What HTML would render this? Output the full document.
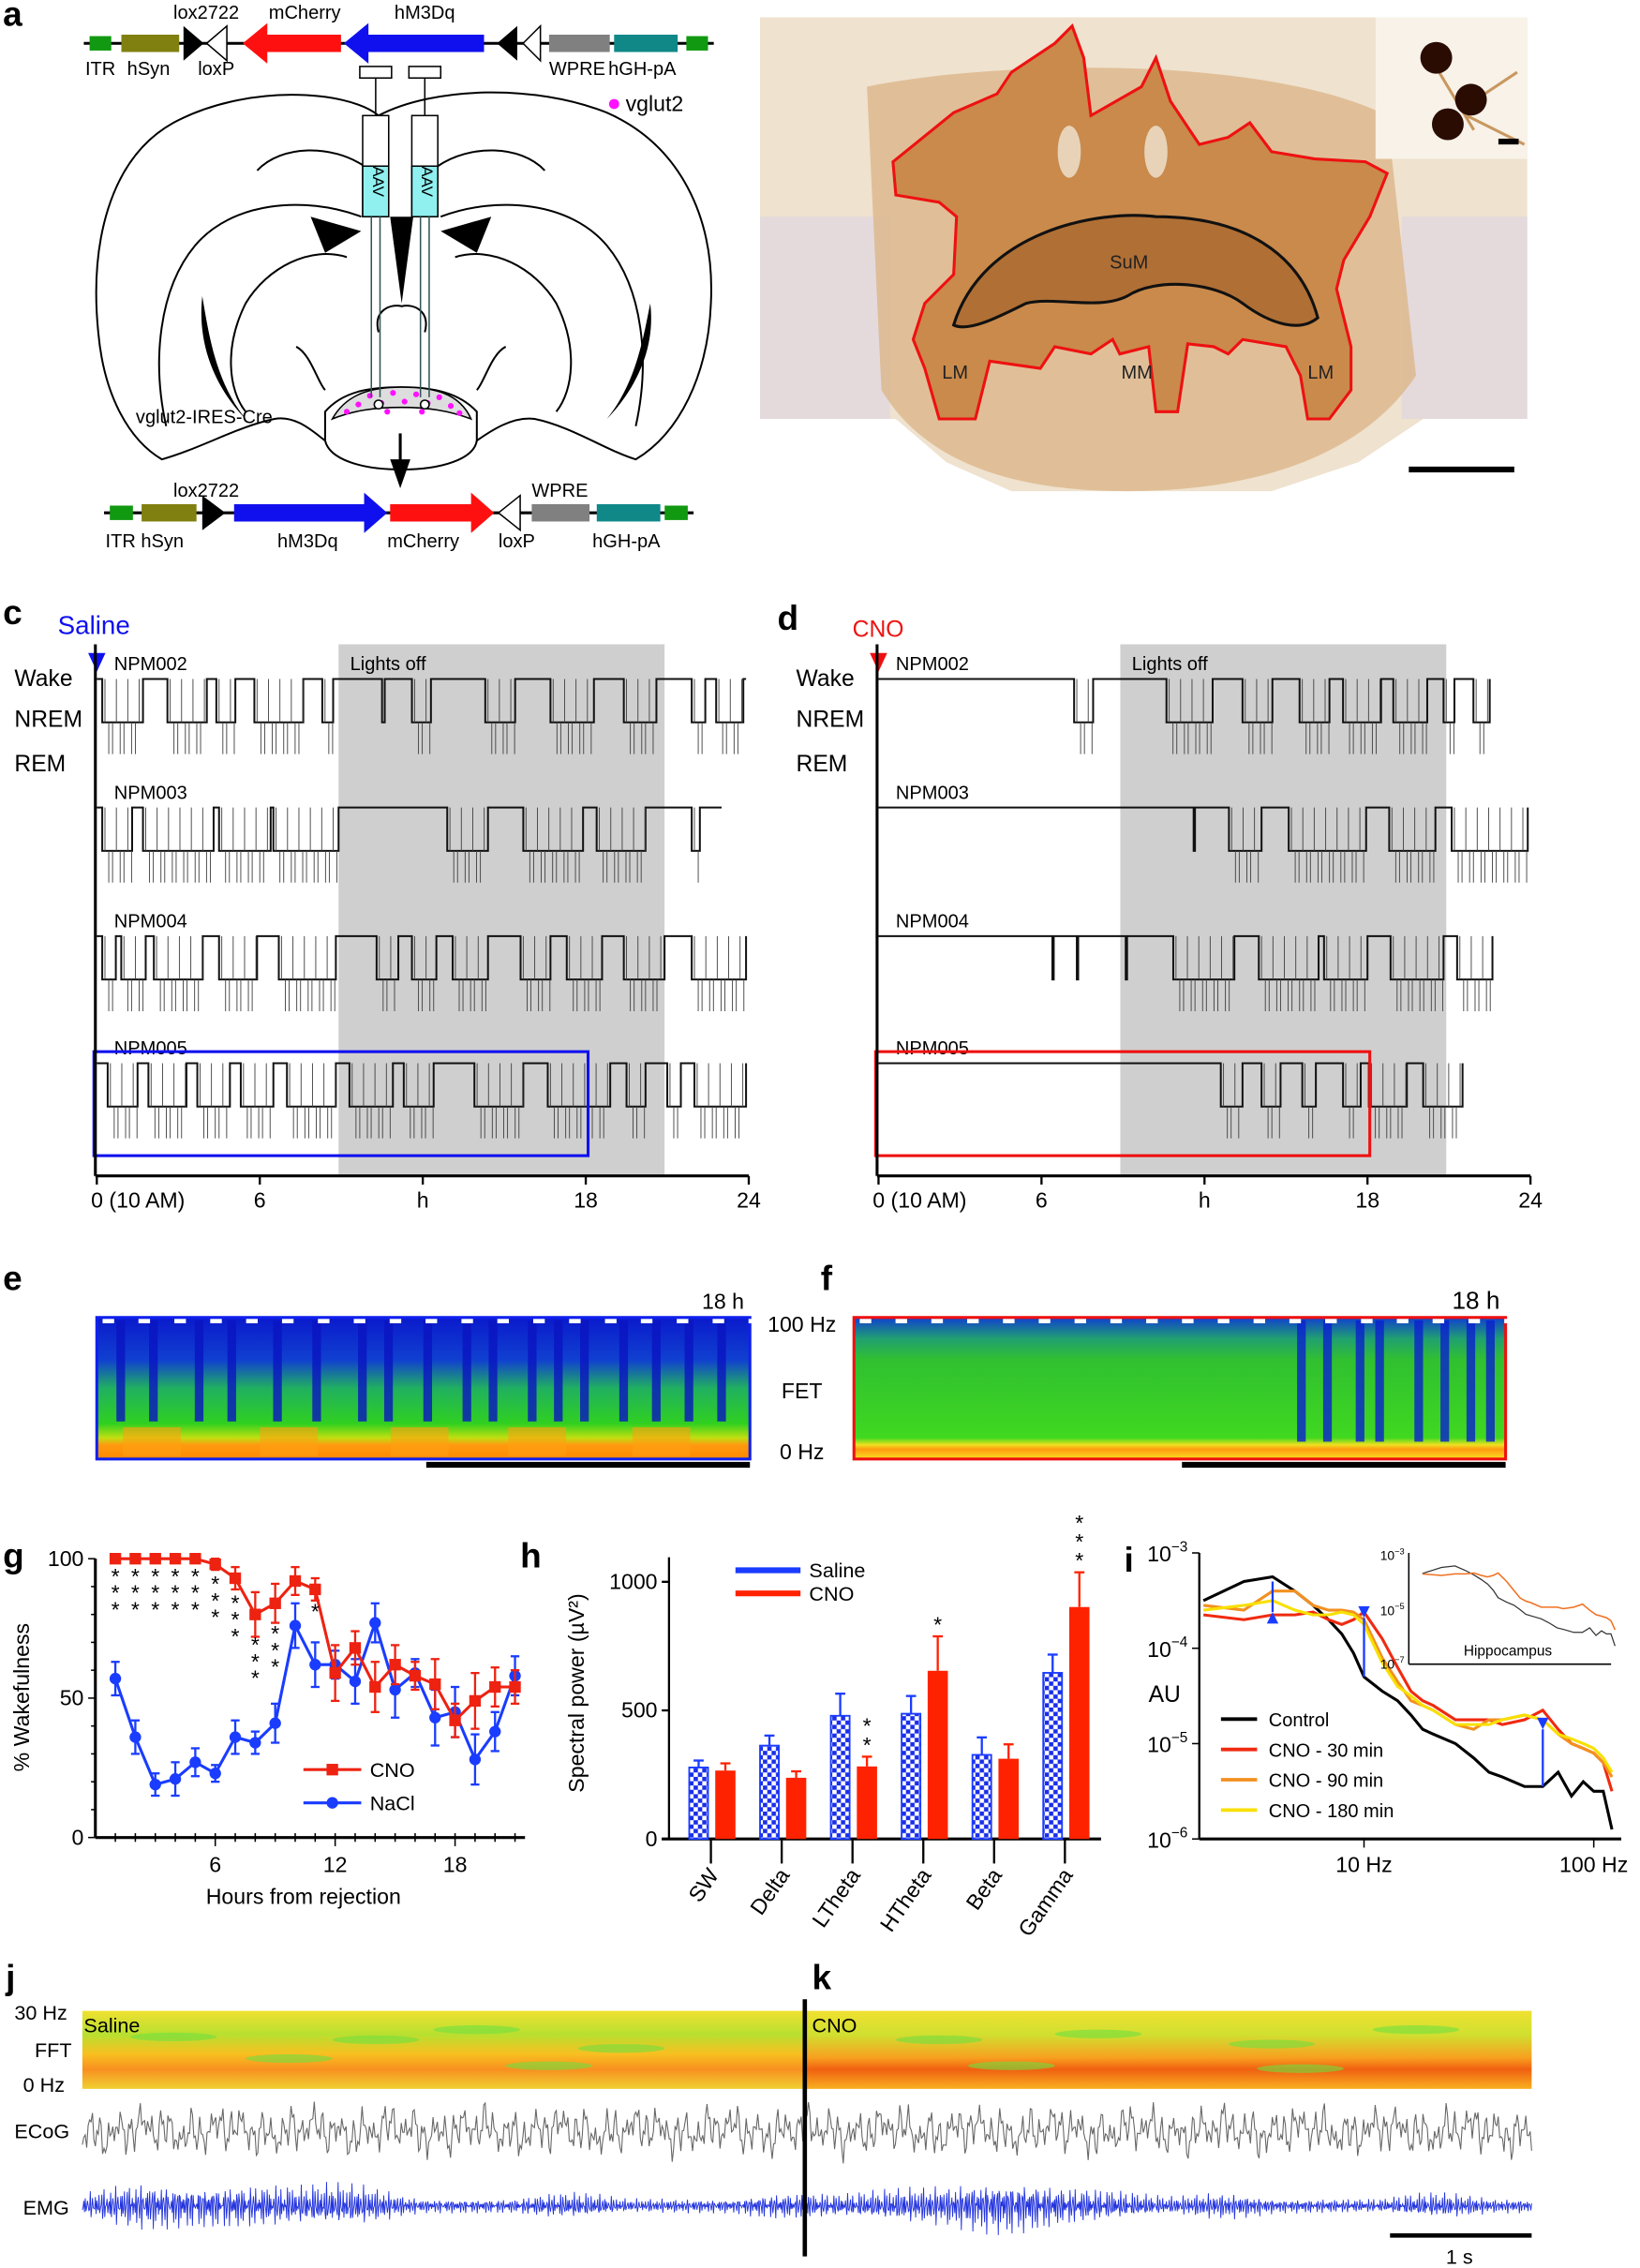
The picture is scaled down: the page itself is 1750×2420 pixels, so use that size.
<!DOCTYPE html>
<html><head><meta charset="utf-8">
<style>
html,body{margin:0;padding:0;background:#fff}
svg{display:block}
text{font-family:"Liberation Sans",Arial,sans-serif}
</style></head>
<body>
<svg id="fig" xmlns="http://www.w3.org/2000/svg" width="1750" height="2420" viewBox="0 0 1135 1570" preserveAspectRatio="none">
<defs>
<pattern id="chk" width="6" height="6" patternUnits="userSpaceOnUse"><rect width="6" height="6" fill="#fff"/><rect width="3" height="3" fill="#1a2ee8"/><rect x="3" y="3" width="3" height="3" fill="#1a2ee8"/></pattern>
<linearGradient id="specE" x1="0" y1="0" x2="0" y2="1"><stop offset="0" stop-color="#0a1acc"/><stop offset="0.3" stop-color="#1040d0"/><stop offset="0.5" stop-color="#20b060"/><stop offset="0.75" stop-color="#30d020"/><stop offset="0.85" stop-color="#c0e010"/><stop offset="0.9" stop-color="#ff9a10"/><stop offset="1" stop-color="#ff8a00"/></linearGradient>
<linearGradient id="specF" x1="0" y1="0" x2="0" y2="1"><stop offset="0" stop-color="#1040d0"/><stop offset="0.15" stop-color="#20a070"/><stop offset="0.3" stop-color="#30c030"/><stop offset="0.85" stop-color="#40d820"/><stop offset="0.9" stop-color="#f0e020"/><stop offset="0.93" stop-color="#ff9a10"/><stop offset="1" stop-color="#f8e020"/></linearGradient>
<linearGradient id="specJ" x1="0" y1="0" x2="0" y2="1"><stop offset="0" stop-color="#f0e030"/><stop offset="0.3" stop-color="#b8e030"/><stop offset="0.55" stop-color="#f8c020"/><stop offset="0.75" stop-color="#f89020"/><stop offset="1" stop-color="#f0d030"/></linearGradient>
<linearGradient id="specK" x1="0" y1="0" x2="0" y2="1"><stop offset="0" stop-color="#f0e030"/><stop offset="0.3" stop-color="#d0e030"/><stop offset="0.6" stop-color="#f8a020"/><stop offset="0.75" stop-color="#f06010"/><stop offset="1" stop-color="#f8b020"/></linearGradient>
</defs>

<g font-weight="bold" font-size="24">
<text x="2" y="18">a</text><text x="533" y="42">b</text><text x="2" y="432">c</text><text x="538" y="436">d</text>
<text x="2" y="893">e</text><text x="568" y="893">f</text><text x="2" y="1085">g</text><text x="360" y="1085">h</text>
<text x="778" y="1088">i</text><text x="4" y="1377">j</text><text x="562" y="1377">k</text>
</g>

<g id="panelA">
 <g>
  <line x1="58" y1="30" x2="494" y2="30" stroke="#000" stroke-width="2"/>
  <rect x="62" y="25" width="15" height="10" fill="#119911"/>
  <rect x="84" y="24" width="40" height="12" fill="#808010"/>
  <polygon points="127,18 127,42 141,30" fill="#000"/>
  <polygon points="157,18 157,42 143,30" fill="#fff" stroke="#000"/>
  <polygon points="168,30 185,16 185,24 236,24 236,36 185,36 185,44" fill="#ff1010"/>
  <polygon points="238,30 255,16 255,24 335,24 335,36 255,36 255,44" fill="#1010ee"/>
  <polygon points="358,18 358,42 344,30" fill="#000"/>
  <polygon points="362,30 374,18 374,42" fill="#fff" stroke="#000"/>
  <rect x="380" y="24" width="42" height="12" fill="#808080"/>
  <rect x="425" y="24" width="44" height="12" fill="#108888"/>
  <rect x="475" y="25" width="15" height="10" fill="#119911"/>
  <g font-size="13"><text x="120" y="13">lox2722</text><text x="186" y="13">mCherry</text><text x="273" y="13">hM3Dq</text>
  <text x="59" y="52">ITR</text><text x="88" y="52">hSyn</text><text x="137" y="52">loxP</text><text x="380" y="52">WPRE</text><text x="421" y="52">hGH-pA</text></g>
 </g>
 <circle cx="425" cy="72" r="3.5" fill="#ff10ff"/><text x="433" y="77" font-size="15">vglut2</text>
 <g fill="none" stroke="#000" stroke-width="1.3">
  <path d="M262,80 C240,62 170,58 120,85 C75,110 62,170 68,230 C72,275 90,305 112,318 C140,310 165,295 190,290 C205,287 218,300 225,305 L225,285 C238,270 258,268 278,268 C300,268 318,272 330,285 L330,305 C340,298 355,288 370,290 C395,295 420,312 440,318 C470,300 490,260 492,210 C495,150 470,100 420,78 C370,58 300,60 262,80 Z"/>
  <path d="M225,305 C228,318 250,325 278,325 C305,325 328,318 330,305"/>
  <path d="M250,150 C210,135 160,140 135,170 C110,200 105,250 115,295"/>
  <path d="M305,150 C345,135 395,140 420,170 C445,200 450,250 440,295"/>
  <path d="M240,178 C215,170 185,185 170,210 C155,240 158,270 170,285"/>
  <path d="M315,178 C340,170 370,185 385,210 C400,240 397,270 385,285"/>
  <path d="M252,115 C230,100 195,100 178,118"/><path d="M303,115 C325,100 360,100 377,118"/>
  <path d="M262,230 C258,215 270,210 278,212 C286,210 298,215 294,230"/>
  <path d="M205,240 C215,245 220,265 225,270"/><path d="M350,240 C340,245 335,265 330,270"/>
 </g>
 <path d="M140,205 C135,250 160,280 170,290 C150,265 145,235 140,205 Z" fill="#000"/>
 <path d="M450,210 C455,250 430,280 420,290 C440,265 445,235 450,210 Z" fill="#000"/>
 <path d="M215,150 L250,160 L225,175 Z" fill="#000"/><path d="M340,150 L305,160 L330,175 Z" fill="#000"/>
 <path d="M270,150 L278,210 L286,150 Z" fill="#000"/>
 <path d="M230,290 C240,272 258,268 278,268 C300,268 318,272 326,290 C310,284 295,282 278,282 C260,282 245,284 230,290 Z" fill="#ddd" stroke="#000"/>
 <g fill="#ff10ff">
  <circle cx="248" cy="280" r="2"/><circle cx="256" cy="274" r="2"/><circle cx="264" cy="279" r="2"/><circle cx="272" cy="272" r="2"/><circle cx="280" cy="278" r="2"/><circle cx="288" cy="273" r="2"/><circle cx="296" cy="279" r="2"/><circle cx="304" cy="275" r="2"/><circle cx="312" cy="281" r="2"/><circle cx="240" cy="285" r="2"/><circle cx="318" cy="286" r="2"/><circle cx="268" cy="285" r="2"/><circle cx="292" cy="285" r="2"/>
 </g>
 <g stroke="#000" fill="#fff">
  <rect x="249" y="46" width="22" height="8"/><rect x="283" y="46" width="22" height="8"/>
  <line x1="260" y1="54" x2="260" y2="80"/><line x1="294" y1="54" x2="294" y2="80"/>
  <rect x="251" y="80" width="18" height="70"/><rect x="285" y="80" width="18" height="70"/>
  <rect x="251" y="115" width="18" height="35" fill="#90f0f0"/><rect x="285" y="115" width="18" height="35" fill="#90f0f0"/>
  <line x1="257" y1="150" x2="257" y2="275" stroke="#355"/><line x1="263" y1="150" x2="263" y2="275" stroke="#355"/>
  <line x1="291" y1="150" x2="291" y2="275" stroke="#355"/><line x1="297" y1="150" x2="297" y2="275" stroke="#355"/>
  <circle cx="262" cy="280" r="3"/><circle cx="294" cy="280" r="3"/>
 </g>
 <text x="253" y="120" font-size="11" transform="rotate(90 258 120)">AAV</text><text x="287" y="120" font-size="11" transform="rotate(90 292 120)">AAV</text>
 <text x="94" y="293" font-size="13">vglut2-IRES-Cre</text>
 <line x1="277" y1="300" x2="277" y2="322" stroke="#000" stroke-width="2"/><polygon points="270,318 284,318 277,338" fill="#000"/>
 <g>
  <line x1="72" y1="355" x2="480" y2="355" stroke="#000" stroke-width="2"/>
  <rect x="76" y="350" width="16" height="10" fill="#119911"/>
  <rect x="98" y="349" width="38" height="12" fill="#808010"/>
  <polygon points="140,343 140,367 156,355" fill="#000"/>
  <polygon points="268,355 252,341 252,349 162,349 162,361 252,361 252,369" fill="#1010ee"/>
  <polygon points="342,355 326,341 326,349 270,349 270,361 326,361 326,369" fill="#ff1010"/>
  <polygon points="345,355 360,343 360,367" fill="#fff" stroke="#000"/>
  <rect x="368" y="349" width="40" height="12" fill="#808080"/>
  <rect x="413" y="349" width="44" height="12" fill="#108888"/>
  <rect x="460" y="350" width="16" height="10" fill="#119911"/>
  <g font-size="13"><text x="120" y="344">lox2722</text><text x="368" y="344">WPRE</text>
  <text x="73" y="379">ITR hSyn</text><text x="192" y="379">hM3Dq</text><text x="268" y="379">mCherry</text><text x="345" y="379">loxP</text><text x="410" y="379">hGH-pA</text></g>
 </g>
</g>

<g id="panelB">
 <path d="M526,12 L1057,12 L1057,290 L985,290 L940,320 L880,340 L700,340 L655,320 L620,290 L526,290 Z" fill="#efe2cf"/>
 <rect x="526" y="150" width="90" height="140" fill="#dcd6e4" opacity="0.6"/>
 <rect x="970" y="150" width="87" height="140" fill="#dcd6e4" opacity="0.6"/>
 <path d="M600,60 C700,40 880,40 960,80 L980,260 C940,320 860,340 780,340 C700,340 640,320 610,270 Z" fill="#dcb68a" opacity="0.8"/>
 <path d="M640,255 L632,235 L640,210 L660,190 L662,150 L650,140 L620,135 L618,112 L660,78 L690,65 L700,50 L730,30 L742,18 L750,40 L755,80 L790,60 L800,40 L810,70 L830,100 L850,95 L865,85 L880,105 L910,110 L945,112 L960,120 L948,150 L930,180 L925,200 L930,220 L935,240 L935,270 L920,290 L905,290 L900,260 L890,240 L860,235 L850,245 L840,240 L822,238 L815,285 L800,285 L795,240 L775,245 L770,235 L755,245 L730,240 L720,255 L685,250 L675,290 L650,290 Z" fill="#c98a4c" stroke="#ee1111" stroke-width="2"/>
 <path d="M660,225 C680,160 760,145 800,150 C860,150 900,175 912,220 C900,230 880,225 860,210 C840,195 800,192 780,205 C760,215 730,205 710,210 C690,220 670,230 660,225 Z" fill="#b06f35" stroke="#111" stroke-width="2"/>
 <ellipse cx="740" cy="105" rx="8" ry="18" fill="#e8d3b8"/><ellipse cx="800" cy="105" rx="8" ry="18" fill="#e8d3b8"/>
 <g font-size="13" fill="#222"><text x="768" y="186">SuM</text><text x="652" y="262">LM</text><text x="776" y="262">MM</text><text x="905" y="262">LM</text></g>
 <rect x="952" y="12" width="105" height="98" fill="#f8f2e8"/>
 <path d="M990,40 L1020,90 M1020,70 L1050,50 M1015,80 L1055,100" stroke="#c89860" stroke-width="2" fill="none"/>
 <circle cx="994" cy="40" r="11" fill="#2a0c02"/><circle cx="1018" cy="69" r="11" fill="#2a0c02"/><circle cx="1002" cy="86" r="11" fill="#2a0c02"/>
 <rect x="1037" y="96" width="14" height="4" fill="#000"/>
 <rect x="975" y="323" width="73" height="4" fill="#000"/>
</g>

<g id="panelCD"></g>
<g id="panelEF"></g>
<g id="panelG"></g>
<g id="panelH"></g>
<g id="panelI"></g>
<g id="panelJK"></g>
</svg>

<script>
// ---------- DATA ----------
const salineBouts = [
 [[0.2,1.7],[2.6,4.05],[4.4,5.1],[5.8,7.6],[8.3,8.7],[10.5,10.6],[11.6,12.3],[14.3,15.4],[16.7,18.3],[19.4,20.6],[21.9,22.4],[22.8,23.8]],
 [[0.2,1.3],[1.7,4.3],[4.5,6.4],[6.5,8.9],[12.9,14.4],[15.7,17.9],[18.4,20.2],[21.9,22.2]],
 [[0.2,0.7],[0.9,1.8],[2.1,3.9],[4.5,5.9],[6.7,8.8],[10.3,11.1],[11.6,12.5],[13.1,14.4],[15.6,16.7],[17.3,18.6],[19.4,20.9],[21.9,23.9]],
 [[0.4,1.5],[1.9,3.3],[3.7,4.9],[5.3,6.5],[7.0,8.8],[9.3,10.9],[11.3,12.4],[13.9,15.7],[16.6,18.9],[19.5,20.2],[21.0,21.5],[22.0,23.9]]
];
const salineEnd = [23.9,23.0,23.9,23.9];
const cnoBouts = [
 [[7.2,7.9],[10.6,12.3],[13.4,14.5],[15.5,16.6],[17.1,18.5],[18.95,20.2],[20.8,21.2],[21.9,22.5]],
 [[11.6,11.65],[12.9,14.1],[15.1,17.95],[18.8,20.5],[21.1,23.9]],
 [[6.4,6.45],[7.3,7.35],[9.1,9.15],[10.85,13.1],[14.0,16.2],[16.4,18.0],[18.85,20.8],[21.3,22.6]],
 [[12.6,13.4],[14.1,14.8],[15.6,16.1],[17.1,17.75],[18.05,19.45],[20.05,21.5]]
];
const cnoEnd = [22.5,23.9,22.6,21.5];
const mouseNames = ["NPM002","NPM003","NPM004","NPM005"];
const hypTicks = ["0  (10 AM)","6","h","18","24"];

const gHours = [1,2,3,4,5,6,7,8,9,10,11,12,13,14,15,16,17,18,19,20,21];
const gCNO = [100,100,100,100,100,98,93,80,84,92,89,59,68,54,62,58,55,42,49,54,54];
const gCNOerr = [0,0,0,0,0,2,4,8,7,5,4,10,6,9,7,5,9,6,10,7,6];
const gNaCl = [57,36,19,21,27,23,36,34,41,76,62,62,56,77,53,59,43,45,28,38,58];
const gNaClErr = [6,6,4,6,5,3,6,4,7,8,8,5,8,7,10,5,10,9,9,7,7];
const gStarHours = [1,2,3,4,5,6,7,8,9,11];
const gStarTop = [93.6,93.6,93.6,93.6,93.6,90.8,84,69,73,81];
const gStarCount = [3,3,3,3,3,3,3,3,3,1];
const gYTicks = [0,50,100];
const gXTicks = [6,12,18];

const hCats = ["SW","Delta","LTheta","HTheta","Beta","Gamma"];
const hSaline = [278,363,479,487,327,646];
const hSalineErr = [27,39,86,69,68,71];
const hCNO = [266,238,282,654,312,902];
const hCNOerr = [28,25,38,134,56,135];
const hStars = [0,0,2,1,0,3];
const hYTicks = [0,500,1000];

const iFreq = [2,3,4,5,6,7,8,9,10,12,14,16,18,20,25,30,35,40,50,60,70,80,90,100,110,120];
const iControl = [-3.5,-3.3,-3.25,-3.4,-3.55,-3.7,-3.85,-4.05,-4.3,-4.45,-4.55,-4.7,-4.85,-4.9,-5.0,-5.15,-5.3,-5.35,-5.45,-5.45,-5.3,-5.55,-5.4,-5.5,-5.5,-5.9];
const iCNO30 = [-3.65,-3.7,-3.65,-3.65,-3.62,-3.7,-3.75,-3.7,-3.62,-3.9,-4.2,-4.45,-4.55,-4.6,-4.75,-4.75,-4.75,-4.8,-4.75,-4.65,-4.85,-5.0,-5.05,-5.1,-5.2,-5.5];
const iCNO90 = [-3.55,-3.6,-3.4,-3.4,-3.55,-3.6,-3.6,-3.62,-3.7,-4.1,-4.35,-4.55,-4.6,-4.65,-4.8,-4.85,-4.75,-4.75,-4.7,-4.75,-4.9,-5.0,-5.05,-5.1,-5.2,-5.35];
const iCNO180 = [-3.6,-3.55,-3.5,-3.6,-3.65,-3.65,-3.62,-3.65,-3.75,-4.15,-4.4,-4.5,-4.6,-4.65,-4.8,-4.8,-4.8,-4.75,-4.7,-4.75,-4.9,-4.95,-5.0,-5.05,-5.15,-5.3];
const iYTicks = [-3,-4,-5,-6];
const iXTicks = [10,100];
const iLegend = ["Control","CNO - 30 min","CNO - 90 min","CNO - 180 min"];

const NS="http://www.w3.org/2000/svg";
function mk(tag, attrs, parent){const e=document.createElementNS(NS,tag);for(const k in attrs)e.setAttribute(k,attrs[k]);if(parent)parent.appendChild(e);return e;}
function tx(parent,x,y,s,size,extra){const e=mk('text',Object.assign({x:x,y:y,'font-size':size||14},extra||{}),parent);e.textContent=s;return e;}

(function(){
 const g=document.getElementById('panelCD');
 const rowY=[470,559,648,736];
 const panels=[{x0:67,bouts:salineBouts,end:salineEnd,label:"Saline",col:"#1010ee",box:[65,728,407,800],lx:40,wx:10},
               {x0:608,bouts:cnoBouts,end:cnoEnd,label:"CNO",col:"#ee1010",box:[606,728,948,800],lx:590,wx:551}];
 panels.forEach((p,pi)=>{
  const sx=h=>p.x0+h*18.8;
  const gray=mk('rect',{x:sx(8.9),y:446,width:sx(20.9)-sx(8.9),height:367,fill:'#cfcfcf'},g);
  
  
  tx(g,sx(8.9)+8,464,"Lights off",13);
  tx(g,p.lx,pi?441:439,p.label,pi?16:18,{fill:p.col});
  mk('polygon',{points:`${p.x0-6},452 ${p.x0+6},452 ${p.x0},465`,fill:p.col},g);
  tx(g,p.wx,475,"Wake",16);tx(g,p.wx,503,"NREM",16);tx(g,p.wx,534,"REM",16);
  p.bouts.forEach((bs,ri)=>{
   const yw=rowY[ri],yn=yw+30,yr=yw+52;
   tx(g,p.x0+12,yw-6,mouseNames[ri],13);
   let d=`M${p.x0},${yw}`;
   bs.forEach(b=>{d+=` L${sx(b[0])},${yw} L${sx(b[0])},${yn} L${sx(b[1])},${yn} L${sx(b[1])},${yw}`;});
   d+=` L${sx(p.end[ri])},${yw}`;
   const path=mk('path',{d:d,fill:'none',stroke:'#111','stroke-width':1.3},g);
   
   
   let td='';
   bs.forEach(b=>{let k=0;for(let h=b[0]+0.1;h<b[1];h+=0.14){const x=sx(h);if(k%3===0)td+=`M${x},${yn}L${x},${yw}`;else td+=`M${x},${yn}L${x},${yr}`;k++;}});
   mk('path',{d:td,stroke:'#444','stroke-width':0.6,fill:'none'},g);
  });
  const bx=mk('rect',{x:p.box[0],y:p.box[1],width:p.box[2]-p.box[0],height:p.box[3]-p.box[1],fill:'none',stroke:p.col,'stroke-width':2},g);
  
  
  mk('line',{x1:p.x0-1,y1:446,x2:p.x0-1,y2:814,stroke:'#000','stroke-width':2},g);
  mk('line',{x1:p.x0-1,y1:814,x2:sx(24),y2:814,stroke:'#000','stroke-width':2},g);
  hypTicks.forEach((t,i)=>{const x=sx(i*6);mk('line',{x1:x,y1:814,x2:x,y2:820,stroke:'#000','stroke-width':1.5},g);
   tx(g,i===0?x-4:x,836,t,15,{'text-anchor':i===0?'start':'middle'});});
 });
})();

(function(){
 const g=document.getElementById('panelEF');
 const specs=[{x:67,w:452,fill:'url(#specE)',stroke:'#1020ee',barX:295,stripes:[0.03,0.08,0.15,0.2,0.27,0.33,0.4,0.44,0.5,0.56,0.6,0.66,0.7,0.74,0.8,0.85,0.9,0.95],s:'#0a14c0',name:'spectrogram-saline'},
              {x:591,w:451,fill:'url(#specF)',stroke:'#ee1010',barX:818,stripes:[0.68,0.72,0.77,0.8,0.86,0.9,0.94,0.97],s:'#0a20d0',name:'spectrogram-cno'}];
 specs.forEach((s,i)=>{
  const r=mk('rect',{x:s.x,y:912,width:s.w,height:98,fill:s.fill,stroke:s.stroke,'stroke-width':2},g);
  
  
  s.stripes.forEach(f=>{mk('rect',{x:s.x+f*s.w,y:914,width:6,height:i?84:70,fill:s.s,opacity:0.8},g);});
  if(i===0){[0.04,0.25,0.45,0.63,0.82].forEach(f=>mk('rect',{x:s.x+f*s.w,y:988,width:40,height:20,fill:'#ffa010',opacity:0.6},g));}
  for(let k=0;k<19;k++){mk('rect',{x:s.x+4+k*s.w/18.2,y:913,width:8,height:3,fill:'#fff'},g);}
  mk('rect',{x:s.barX,y:1012,width:s.x+s.w-s.barX,height:4,fill:'#000'},g);
  tx(g,s.x+s.w-4,906,"18 h",i?17:15,{'text-anchor':'end'});
 });
 tx(g,555,922,"100 Hz",15,{'text-anchor':'middle'});tx(g,555,968,"FET",15,{'text-anchor':'middle'});tx(g,555,1010,"0 Hz",15,{'text-anchor':'middle'});
})();

(function(){
 const g=document.getElementById('panelG');
 const X=h=>66+h*13.83, Y=v=>1272-v*1.93;
 mk('line',{x1:X(0),y1:Y(0),x2:X(21.5),y2:Y(0),stroke:'#000','stroke-width':2},g);
 mk('line',{x1:X(0),y1:Y(0),x2:X(0),y2:Y(100),stroke:'#000','stroke-width':2},g);
 for(let v=0;v<=100;v+=10)mk('line',{x1:X(0)-(v%50?3:5),y1:Y(v),x2:X(0),y2:Y(v),stroke:'#000'},g);
 for(let h=1;h<=21;h++)mk('line',{x1:X(h),y1:Y(0)-3,x2:X(h),y2:Y(0)+(h%6?3:6),stroke:'#000'},g);
 gYTicks.forEach(v=>tx(g,X(0)-8,Y(v)+5,String(v),15,{'text-anchor':'end'}));
 gXTicks.forEach(h=>tx(g,X(h),1296,String(h),15,{'text-anchor':'middle'}));
 tx(g,210,1318,"Hours from rejection",15,{'text-anchor':'middle'});
 tx(g,20,1175,"% Wakefulness",15,{'text-anchor':'middle',transform:'rotate(-90 20 1175)'});
 [[gNaCl,gNaClErr,'#1a3cff','c'],[gCNO,gCNOerr,'#ee2211','s']].forEach(([vals,err,col,shape])=>{
  const pts=gHours.map((h,i)=>`${X(h)},${Y(vals[i])}`).join(' ');
  const pl=mk('polyline',{points:pts,fill:'none',stroke:col,'stroke-width':2},g);
  
  
  gHours.forEach((h,i)=>{
   if(err[i]>0){mk('line',{x1:X(h),y1:Y(vals[i]-err[i]),x2:X(h),y2:Y(vals[i]+err[i]),stroke:col,'stroke-width':1.5},g);
    mk('line',{x1:X(h)-3,y1:Y(vals[i]-err[i]),x2:X(h)+3,y2:Y(vals[i]-err[i]),stroke:col,'stroke-width':1.5},g);
    mk('line',{x1:X(h)-3,y1:Y(vals[i]+err[i]),x2:X(h)+3,y2:Y(vals[i]+err[i]),stroke:col,'stroke-width':1.5},g);}
   if(shape==='s')mk('rect',{x:X(h)-4,y:Y(vals[i])-4,width:8,height:8,fill:col},g);
   else mk('circle',{cx:X(h),cy:Y(vals[i]),r:4,fill:col},g);
  });
 });
 gStarHours.forEach((h,i)=>{for(let k=0;k<gStarCount[i];k++)tx(g,X(h),Y(gStarTop[i])+5+k*11.5,"*",15,{'text-anchor':'middle'});});
 mk('line',{x1:210,y1:1225,x2:250,y2:1225,stroke:'#ee2211','stroke-width':2},g);mk('rect',{x:226,y:1221,width:8,height:8,fill:'#ee2211'},g);
 tx(g,256,1230,"CNO",14);
 mk('line',{x1:210,y1:1248,x2:250,y2:1248,stroke:'#1a3cff','stroke-width':2},g);mk('circle',{cx:230,cy:1248,r:4,fill:'#1a3cff'},g);
 tx(g,256,1253,"NaCl",14);
})();

(function(){
 const g=document.getElementById('panelH');
 const Y=v=>1273-v*0.178, X=i=>492+i*49;
 mk('line',{x1:463,y1:1078,x2:463,y2:1273,stroke:'#000','stroke-width':1.5},g);
 mk('line',{x1:458,y1:1273,x2:762,y2:1273,stroke:'#000','stroke-width':2},g);
 hYTicks.forEach(v=>{mk('line',{x1:458,y1:Y(v),x2:463,y2:Y(v),stroke:'#000','stroke-width':1.5},g);tx(g,455,Y(v)+5,String(v),15,{'text-anchor':'end'});});
 tx(g,404,1172,"Spectral power (µV²)",15,{'text-anchor':'middle',transform:'rotate(-90 404 1172)'});
 hCats.forEach((c,i)=>{
  const x=X(i);
  mk('line',{x1:x,y1:1273,x2:x,y2:1290,stroke:'#000','stroke-width':1.5},g);
  tx(g,x+6,1298,c,15,{'text-anchor':'end',transform:`rotate(-55 ${x+6} 1298)`});
  const sb=mk('rect',{x:x-15,y:Y(hSaline[i]),width:13,height:Y(0)-Y(hSaline[i]),fill:'url(#chk)',stroke:'#1a3cff','stroke-width':1.2},g);
  
  
  mk('line',{x1:x-8.5,y1:Y(hSaline[i]),x2:x-8.5,y2:Y(hSaline[i]+hSalineErr[i]),stroke:'#1a3cff','stroke-width':1.5},g);
  mk('line',{x1:x-12,y1:Y(hSaline[i]+hSalineErr[i]),x2:x-5,y2:Y(hSaline[i]+hSalineErr[i]),stroke:'#1a3cff','stroke-width':1.5},g);
  const cb=mk('rect',{x:x+3,y:Y(hCNO[i]),width:14,height:Y(0)-Y(hCNO[i]),fill:'#ff2200'},g);
  
  
  mk('line',{x1:x+10,y1:Y(hCNO[i]),x2:x+10,y2:Y(hCNO[i]+hCNOerr[i]),stroke:'#ff2200','stroke-width':1.5},g);
  mk('line',{x1:x+6.5,y1:Y(hCNO[i]+hCNOerr[i]),x2:x+13.5,y2:Y(hCNO[i]+hCNOerr[i]),stroke:'#ff2200','stroke-width':1.5},g);
  for(let k=0;k<hStars[i];k++)tx(g,x+10,Y(hCNO[i]+hCNOerr[i])-3-k*13,"*",15,{'text-anchor':'middle'});
 });
 mk('line',{x1:509,y1:1087,x2:554,y2:1087,stroke:'#1a3cff','stroke-width':4},g);tx(g,560,1092,"Saline",14);
 mk('line',{x1:509,y1:1103,x2:554,y2:1103,stroke:'#ff2200','stroke-width':4},g);tx(g,560,1108,"CNO",14);
})();

(function(){
 const g=document.getElementById('panelI');
 const X=f=>785+Math.log10(f)*159, Y=l=>1075-(l+3)*66;
 mk('line',{x1:830,y1:1075,x2:830,y2:1273,stroke:'#000','stroke-width':1.5},g);
 mk('line',{x1:830,y1:1273,x2:1122,y2:1273,stroke:'#000','stroke-width':2},g);
 iYTicks.forEach(l=>{mk('line',{x1:825,y1:Y(l),x2:830,y2:Y(l),stroke:'#000'},g);
  const t=tx(g,822,Y(l)+6,"10",15,{'text-anchor':'end'});const s=mk('tspan',{dy:-7,'font-size':10},t);s.textContent=String(l).replace('-','−');});
 iXTicks.forEach(f=>{mk('line',{x1:X(f),y1:1273,x2:X(f),y2:1279,stroke:'#000'},g);tx(g,X(f),1296,f+" Hz",15,{'text-anchor':'middle'});});
 tx(g,806,1178,"AU",16,{'text-anchor':'middle'});
 const series=[[iControl,'#000'],[iCNO30,'#f02a10'],[iCNO90,'#f39020'],[iCNO180,'#f8e000']];
 series.forEach(([v,c],si)=>{
  const pl=mk('polyline',{points:iFreq.map((f,i)=>`${X(f)},${Y(v[i])}`).join(' '),fill:'none',stroke:c,'stroke-width':2},g);
  
  
  mk('line',{x1:845,y1:1190+si*21,x2:870,y2:1190+si*21,stroke:c,'stroke-width':2.5},g);
  tx(g,878,1195+si*21,iLegend[si],13);
 });
 [[4,-3.3,-3.62],[10,-4.3,-3.68],[60,-5.45,-4.85]].forEach(a=>{
  mk('line',{x1:X(a[0]),y1:Y(a[1]),x2:X(a[0]),y2:Y(a[2]),stroke:'#1a3cff','stroke-width':1.5},g);
  const dir=a[2]<a[1]?1:-1, ye=Y(a[2]);
  mk('polygon',{points:`${X(a[0])-4},${ye+dir*8} ${X(a[0])+4},${ye+dir*8} ${X(a[0])},${ye}`,fill:'#1a3cff'},g);
 });
 const ins=mk('g',{},g);
 
 
 mk('line',{x1:975,y1:1075,x2:975,y2:1152,stroke:'#000'},ins);mk('line',{x1:975,y1:1152,x2:1115,y2:1152,stroke:'#000'},ins);
 [[-3,1077],[-5,1115],[-7,1152]].forEach(t=>{const e=tx(ins,972,t[1]+3,"10",9,{'text-anchor':'end'});const s=mk('tspan',{dy:-4,'font-size':6},e);s.textContent=String(t[0]).replace('-','−');});
 const IX=f=>975+Math.log10(f/1.5)*75, IY=l=>1075-(l+3)*19;
 const insetCtl=iControl.map(v=>v*1.1+0.1), insetC=iCNO30.map(v=>v*1.1+0.25);
 mk('polyline',{points:iFreq.map((f,i)=>`${IX(f)},${IY(insetCtl[i])}`).join(' '),fill:'none',stroke:'#333','stroke-width':0.8},ins);
 mk('polyline',{points:iFreq.map((f,i)=>`${IX(f)},${IY(insetC[i])}`).join(' '),fill:'none',stroke:'#f07020','stroke-width':1},ins);
 tx(ins,1013,1146,"Hippocampus",10);
})();

(function(){
 const g=document.getElementById('panelJK');
 const r1=mk('rect',{x:57,y:1392,width:500,height:54,fill:'url(#specJ)'},g);
 
 
 const r2=mk('rect',{x:557,y:1392,width:503,height:54,fill:'url(#specK)'},g);
 
 
 [[120,1410],[260,1412],[330,1405],[430,1418],[200,1425],[380,1430],[650,1412],[760,1408],[880,1415],[980,1405],[700,1430],[900,1432]].forEach(p=>mk('ellipse',{cx:p[0],cy:p[1],rx:30,ry:3,fill:'#70e040',opacity:0.6},g));
 tx(g,10,1398,"30 Hz",14);tx(g,24,1424,"FFT",14);tx(g,16,1448,"0 Hz",14);
 tx(g,58,1407,"Saline",14);tx(g,562,1407,"CNO",14);
 tx(g,10,1480,"ECoG",14);tx(g,16,1533,"EMG",14);
 let d1='',d2='';
 for(let i=0;i<=1000;i++){const x=57+i*1.003;
  const v=Math.sin(i*0.9)*7+Math.sin(i*2.3+1)*6+Math.sin(i*0.37+2)*5+Math.sin(i*5.1)*4+Math.sin(i*0.11)*3;
  d1+=(i?'L':'M')+x.toFixed(1)+','+(1475+v).toFixed(1);}
 for(let i=0;i<=2000;i++){const x=57+i*0.5015;
  const env=0.6+1.2*Math.max(0,Math.sin(i*0.006+0.3))+0.5*Math.max(0,Math.sin(i*0.021));
  const v=(Math.sin(i*2.7)*3.5+Math.sin(i*4.3+1)*3.5+Math.sin(i*7.9)*2.5)*env;
  d2+=(i?'L':'M')+x.toFixed(1)+','+(1527+v).toFixed(1);}
 const ec=mk('path',{d:d1,fill:'none',stroke:'#666','stroke-width':0.7},g);
 
 
 const em=mk('path',{d:d2,fill:'none',stroke:'#2233dd','stroke-width':0.6},g);
 
 
 mk('line',{x1:557,y1:1384,x2:557,y2:1562,stroke:'#000','stroke-width':3},g);
 mk('rect',{x:962,y:1546,width:98,height:3,fill:'#000'},g);
 tx(g,1010,1567,"1 s",14,{'text-anchor':'middle'});
})();
</script>
</body></html>
